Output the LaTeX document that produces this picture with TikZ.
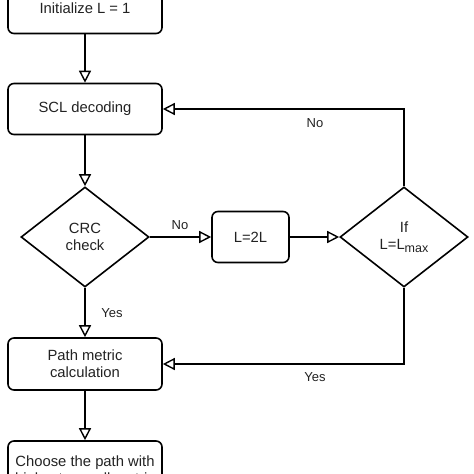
\documentclass[tikz,border=0pt]{standalone}
\usepackage{fontspec}
\setmainfont{Liberation Sans}
\usetikzlibrary{shapes.geometric,arrows.meta}
\definecolor{txt}{HTML}{222222}
\begin{document}
\begin{tikzpicture}[x=1pt,y=-1pt,
  font=\fontsize{14.8}{17}\selectfont, text=txt,
  box/.style={draw=black, line width=1.6pt, rounded corners=6pt, minimum width=154pt, minimum height=51pt, align=center, inner sep=0pt},
  dec/.style={draw=black, line width=1.6pt, diamond, minimum width=128pt, minimum height=100pt, align=center, inner sep=0pt},
  arr/.style={draw=black, line width=1.6pt, -{Triangle[open, length=12pt, width=12pt, line width=1.4pt]}},
  lbl/.style={font=\fontsize{13}{15}\selectfont, inner sep=0pt}]
\clip (0,0) rectangle (474,474);
\useasboundingbox (0,0) rectangle (474,474);
\node[box] (init) at (85,8) {Initialize L = 1};
\node[box] (scl) at (85,109) {SCL decoding};
\node[dec] (crc) at (85,237) {CRC\\check};
\node[box, minimum width=77pt] (dbl) at (250.5,237) {L=2L};
\node[dec] (ifl) at (404,237) {If\\L=L\raisebox{-0.45ex}{\fontsize{12.5}{13}\selectfont max}};
\node[box, minimum height=52pt] (pm) at (85,364) {Path metric\\calculation};
\node[box, minimum height=60pt] (ch) at (85,471) {Choose the path with\\highest overall metric};
\coordinate (c1) at (404,109);
\coordinate (c2) at (404,364);
\draw[arr] (init) -- (scl);
\draw[arr] (scl) -- (crc);
\draw[arr] (crc) -- (dbl);
\draw[arr] (dbl) -- (ifl);
\draw[arr] (ifl.north) -- (c1) -- (scl.east);
\draw[arr] (crc) -- (pm);
\draw[arr] (ifl.south) -- (c2) -- (pm.east);
\draw[arr] (pm) -- (ch);
\node[lbl] (no1) at (315,123) {No};
\node[lbl] (no2) at (180,225) {No};
\node[lbl] (yes1) at (112,313) {Yes};
\node[lbl] (yes2) at (315,377) {Yes};
\end{tikzpicture}
\end{document}
